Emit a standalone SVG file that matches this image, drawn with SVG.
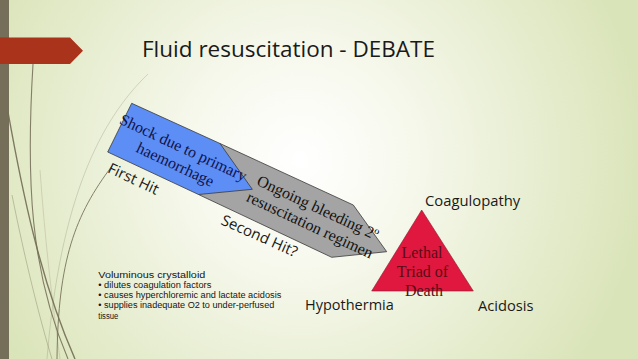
<svg xmlns="http://www.w3.org/2000/svg" width="638" height="359" viewBox="0 0 638 359">
<defs>
<radialGradient id="bg" gradientUnits="userSpaceOnUse" cx="300" cy="160" r="345">
<stop offset="0" stop-color="#ffffff"/>
<stop offset="0.3" stop-color="#f7f9ee"/>
<stop offset="1" stop-color="#dae4b9"/>
</radialGradient>
<style>
.sans{font-family:"Open Sans","Liberation Sans",sans-serif;fill:#1a1a1a}
.serif{font-family:"Liberation Serif","Times New Roman",serif}
.deco{fill:none;stroke:#726b55}
.shape{stroke:#3a3a3a;stroke-width:0.8;stroke-linejoin:miter}
.note{font-family:"Liberation Sans",Arial,sans-serif;font-size:9.7px;fill:#151515}
</style>
</defs>
<rect width="638" height="359" fill="url(#bg)"/>
<g id="decoration">
<rect x="0" y="0" width="9" height="359" fill="#756e58"/>
<path class="deco" d="M33,64 C26,180 30,270 68,359" stroke-width="1.1" opacity="0.85"/>
<path class="deco" d="M8,112 C22,190 40,280 75,359" stroke-width="1.4" opacity="0.9"/>
<path class="deco" d="M148,74 C100,120 60,200 47,359" stroke-width="0.8" opacity="0.3"/>
<path class="deco" d="M112,166 C75,215 58,260 57,359" stroke-width="1" opacity="0.85"/>
<path class="deco" d="M12,195 C25,260 40,320 52,359" stroke-width="0.9" opacity="0.4"/>
<path class="deco" d="M40,170 C45,240 52,300 60,359" stroke-width="0.8" opacity="0.25"/>
<polygon points="0,37.5 70,37.5 83,50.7 70,64 0,64" fill="#a9331b"/>
</g>
<g id="title">
<text class="sans" x="142" y="57" font-size="22.5" fill="#222">Fluid resuscitation - DEBATE</text>
</g>
<g id="connectors"></g>
<g id="second-hit">
<polygon class="shape" points="220,143.5 353.3,205 386.7,251.7 331.7,257.3 198.5,194.5" fill="#a4a4a4"/>
<g transform="translate(315.7,212.5) rotate(25)">
<text class="serif" x="0" y="0" font-size="16" text-anchor="middle" fill="#111">Ongoing bleeding 2º</text>
<text class="serif" x="0" y="19" font-size="16" text-anchor="middle" fill="#111">resuscitation regimen</text>
</g>
<text class="sans" font-size="15" transform="translate(220,224) rotate(24)">Second Hit?</text>
</g>
<g id="first-hit">
<polygon class="shape" points="131.7,103.3 220,143.5 252.3,189.3 198.5,194.5 107.7,152" fill="#5c8ef5"/>
<g transform="translate(181,152.5) rotate(25)">
<text class="serif" x="0" y="0" font-size="16" text-anchor="middle" fill="#12124a">Shock due to primary</text>
<text class="serif" x="0" y="18.5" font-size="16" text-anchor="middle" fill="#12124a">haemorrhage</text>
</g>
<text class="sans" font-size="15" transform="translate(106.7,172) rotate(25)">First Hit</text>
</g>
<g id="triad">
<polygon points="421.7,210 371.7,291 473.3,291" fill="#e0173f" stroke="#8a1a2a" stroke-width="0.6"/>
<text class="serif" x="422" y="258" font-size="16" text-anchor="middle" fill="#5c0d15">Lethal</text>
<text class="serif" x="422.5" y="276.7" font-size="16" text-anchor="middle" fill="#5c0d15">Triad of</text>
<text class="serif" x="424" y="295.5" font-size="16" text-anchor="middle" fill="#5c0d15">Death</text>
</g>
<g id="coagulopathy"><text class="sans" x="425" y="206" font-size="14.8">Coagulopathy</text></g>
<g id="hypothermia"><text class="sans" x="305" y="310" font-size="14.5">Hypothermia</text></g>
<g id="acidosis"><text class="sans" x="478" y="310.5" font-size="14.7">Acidosis</text></g>
<g id="note">
<text class="note" x="98.3" y="277.5" textLength="107" lengthAdjust="spacingAndGlyphs">Voluminous crystalloid</text>
<text class="note" x="98.3" y="287.8" textLength="113" lengthAdjust="spacingAndGlyphs">• dilutes coagulation factors</text>
<text class="note" x="98.3" y="298.1" textLength="183" lengthAdjust="spacingAndGlyphs">• causes hyperchloremic and lactate acidosis</text>
<text class="note" x="98.3" y="308.4" textLength="176" lengthAdjust="spacingAndGlyphs">• supplies inadequate O2 to under-perfused</text>
<text class="note" x="98.3" y="318.7" textLength="20" lengthAdjust="spacingAndGlyphs">tissue</text>
</g>
</svg>
